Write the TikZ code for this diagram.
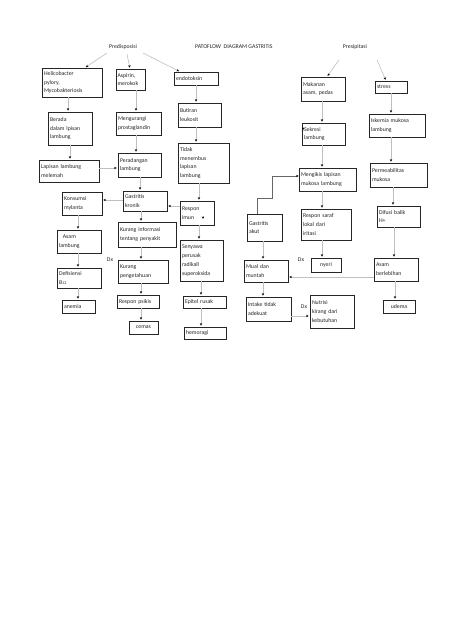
\documentclass[tikz,border=0pt]{standalone}
\usepackage{fontspec}
\setmainfont{Carlito}
\usetikzlibrary{arrows.meta}
\tikzset{
  box/.style={draw=black!85, line width=0.6pt, rectangle, inner sep=1.5pt, align=left,
    font=\fontsize{5.8}{8.8}\selectfont, text=black!85},
  arr/.style={draw=black!25, line width=0.6pt, shorten >=1pt,
    -{Stealth[color=black, length=2.6pt, width=2.4pt]}},
  stepline/.style={draw=black!60, line width=0.8pt, -{Stealth[color=black, length=2.6pt, width=2.4pt]}},
  lbl/.style={font=\fontsize{5.8}{8.8}\selectfont, text=black!85, inner sep=0pt}
}
\newcommand\varr[3]{\draw[arr] (#2,0 |- #1.south) -- (#2,0 |- #3.north);}
\begin{document}
\begin{tikzpicture}[x=1pt,y=-1pt]
\useasboundingbox[fill=white] (0,0) rectangle (474,632);
% headings
\node[lbl] (pred) at (123,47) {Predisposisi};
\node[lbl,anchor=west] (title) at (195,47) {PATOFLOW\ \ DIAGRAM GASTRITIS};
\node[lbl] (pres) at (355,47) {Presipitasi};
% left column boxes
\node[box, minimum width=60, minimum height=29, text width=56] (helico) at (72,82.5) {Helicobacter\\pylory,\\Mycobakteriosis};
\node[box, minimum width=29, minimum height=21, text width=26] (aspirin) at (130.5,79.5) {Aspirin,\\merokok};
\node[box, minimum width=44, minimum height=13, text width=40] (endo) at (196,78.5) {endotoksin};
\node[box, minimum width=44, minimum height=33, text width=40] (berada) at (70,128.5) {Berada\\dalam lpisan\\lambung};
\node[box, minimum width=45, minimum height=23, text width=41] (meng) at (138.5,123.5) {Mengurangi\\prostaglandin};
\node[box, minimum width=43, minimum height=24, text width=39] (butiran) at (199.5,115) {Butiran\\leukosit};
\node[box, minimum width=51, minimum height=40, text width=47] (tidak) at (203.5,163) {Tidak\\menembus\\lapisan\\lambung};
\node[box, minimum width=60, minimum height=22, text width=56] (lapisan) at (69,171) {Lapisan lambung\\melemah};
\node[box, minimum width=43, minimum height=24, text width=39] (perad) at (139.5,165) {Peradangan\\lambung};
\node[box, minimum width=44, minimum height=20, text width=40] (gastk) at (145,201) {Gastritis\\kronik};
\node[box, minimum width=40, minimum height=23, text width=36] (konsumsi) at (82,203.5) {Konsumsi\\mylanta};
\node[box, minimum width=34, minimum height=24, text width=30] (resimun) at (197,213) {Respon\\imun};
\node[box, minimum width=58, minimum height=25, text width=54] (kurinfo) at (147,234.5) {Kurang informasi\\tentang penyakit};
\node[box, minimum width=44, minimum height=23, text width=40] (asaml) at (79,241.5) {\ \ Asam\\lambung};
\node[box, minimum width=43, minimum height=41, text width=39] (senyawa) at (201.5,260.5) {Senyawa\\perusak\\radikall\\superoksida};
\node[box, minimum width=44, minimum height=20, text width=40] (defis) at (79,278) {Defisiensi\\B\raisebox{-0.8pt}{\fontsize{4.2}{4.2}\selectfont 12}};
\node[box, minimum width=33, minimum height=13, text width=29] (anemia) at (78.5,306.5) {anemia};
\node[box, minimum width=50, minimum height=23, text width=46] (kurpeng) at (143,271.5) {Kurang\\pengetahuan};
\node[box, minimum width=42, minimum height=13, text width=38] (respsikis) at (138,301.5) {Respon psikis};
\node[box, minimum width=29, minimum height=13, align=center] (cemas) at (143.5,327.5) {cemas};
\node[box, minimum width=43, minimum height=12, text width=39] (epitel) at (204.5,302) {Epitel rusak};
\node[box, minimum width=42, minimum height=12, text width=38] (hemoragi) at (205,333) {hemoragi};
% right column boxes
\node[box, minimum width=44, minimum height=24, text width=40] (makanan) at (323,89) {Makanan\\asam, pedas};
\node[box, minimum width=32, minimum height=12, text width=28] (stress) at (391,87) {stress};
\node[box, minimum width=43, minimum height=22, text width=39] (sekresi) at (323.5,134) {Sekresi\\lambung};
\node[box, minimum width=56, minimum height=23, text width=52] (iskemia) at (397,125.5) {Iskemia mukosa\\lambung};
\node[box, minimum width=57, minimum height=23, text width=53] (mengikis) at (327.5,179.5) {Mengikis lapisan\\mukosa lambung};
\node[box, minimum width=57, minimum height=24, text width=53] (permeab) at (398.5,175) {Permeabilitas\\mukosa};
\node[box, minimum width=35, minimum height=27, text width=31] (gasta) at (264.5,227.5) {Gastritis\\akut};
\node[box, minimum width=50, minimum height=31, text width=46] (ressaraf) at (326,224.5) {Respon saraf\\lokal dari\\iritasi};
\node[box, minimum width=43, minimum height=21, text width=39] (difusi) at (398.5,216.5) {Difusi balik\\H+};
\node[box, minimum width=44, minimum height=22, text width=40] (mual) at (266,271) {Mual dan\\muntah};
\node[box, minimum width=30, minimum height=14, align=center] (nyeri) at (326,265) {nyeri};
\node[box, minimum width=44, minimum height=23, text width=40] (asamb) at (396,269.5) {Asam\\berlebihan};
\node[box, minimum width=45, minimum height=24, text width=41] (intake) at (268.5,309) {Intake tidak\\adekuat};
\node[box, minimum width=44, minimum height=33, text width=40] (nutrisi) at (332,311.5) {Nutrisi\\kirang dari\\kebutuhan};
\node[box, minimum width=32, minimum height=13, align=center] (udema) at (399,306.5) {udema};
% Dx labels
\node[lbl] (dx1) at (110,260) {Dx};
\node[lbl] (dx2) at (301,260) {Dx};
\node[lbl] (dx3) at (304,307) {Dx};
% connectors from headings
\draw[arr] (107,53) -- (helico.north -| 85,0);
\draw[arr] (127,54) -- (aspirin.north -| 130,0);
\draw[arr] (143,53) -- (endo.north -| 180,0);
\draw[arr] (339,60) -- (makanan.north -| 327,0);
\draw[arr] (377,60) -- (stress.north -| 386,0);
% vertical arrows, left
\varr{helico}{68}{berada}
\varr{aspirin}{136}{meng}
\varr{endo}{196}{butiran}
\varr{butiran}{196}{tidak}
\varr{meng}{136}{perad}
\varr{berada}{70}{lapisan}
\varr{tidak}{199}{resimun}
\varr{perad}{140}{gastk}
\varr{gastk}{141}{kurinfo}
\varr{resimun}{199}{senyawa}
\varr{konsumsi}{78}{asaml}
\varr{asaml}{78}{defis}
\varr{defis}{78}{anemia}
\varr{kurinfo}{141}{kurpeng}
\varr{kurpeng}{141}{respsikis}
\varr{respsikis}{141}{cemas}
\varr{senyawa}{201}{epitel}
\varr{epitel}{201}{hemoragi}
% horizontal arrows, left
\draw[arr] (lapisan.east |- 0,168) -- (perad.west |- 0,168);
\draw[arr] (resimun.west |- 0,206) -- (gastk.east |- 0,206);
\draw[arr] (gastk.west |- 0,200) -- (konsumsi.east |- 0,200);
% vertical arrows, right
\varr{makanan}{322}{sekresi}
\varr{stress}{391}{iskemia}
\varr{sekresi}{322}{mengikis}
\varr{iskemia}{391}{permeab}
\varr{mengikis}{322}{ressaraf}
\varr{permeab}{393}{difusi}
\varr{gasta}{263}{mual}
\varr{ressaraf}{322}{nyeri}
\varr{difusi}{394}{asamb}
\varr{mual}{263}{intake}
\varr{asamb}{395}{udema}
% horizontal arrows, right
\draw[arr] (asamb.west |- 0,277) -- (mual.east |- 0,277);
\draw[arr] (intake.east |- 0,316) -- (nutrisi.west |- 0,316);
% step connector
\coordinate (s1) at (272,198);
\draw[stepline] (257,0 |- gasta.north) |- (s1) |- (mengikis.west |- 0,176);
% stray arrow tips
\draw[arr, shorten >=0pt] (203,216) -- (203,219);
\draw[arr, shorten >=0pt] (303,131) -- (303,127);
\end{tikzpicture}
\end{document}
